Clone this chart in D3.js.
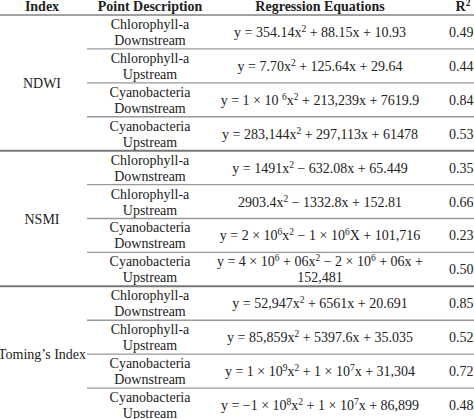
<!DOCTYPE html><html><head><meta charset="utf-8">
<script src="https://cdn.jsdelivr.net/npm/d3@7"></script>
<style>body{margin:0;background:#fff}svg text{font-family:"Liberation Serif","Times New Roman",serif;fill:#222}</style>
</head><body><svg id="c" width="474" height="419"></svg><script>
const headers=["Index","Point Description","Regression Equations","R²"];
const indices=["NDWI","NSMI","Toming’s Index"];
const points=["Chlorophyll-a|Downstream","Chlorophyll-a|Upstream","Cyanobacteria|Downstream","Cyanobacteria|Upstream"];
const equations=[
"y = 354.14x^2 + 88.15x + 10.93","y = 7.70x^2 + 125.64x + 29.64","y = 1 × 10 ^6x^2 + 213,239x + 7619.9","y = 283,144x^2 + 297,113x + 61478",
"y = 1491x^2 − 632.08x + 65.449","2903.4x^2 − 1332.8x + 152.81","y = 2 × 10^6x^2 − 1 × 10^6X + 101,716","y = 4 × 10^6 + 06x^2 − 2 × 10^6 + 06x +|152,481",
"y = 52,947x^2 + 6561x + 20.691","y = 85,859x^2 + 5397.6x + 35.035","y = 1 × 10^9x^2 + 1 × 10^7x + 31,304","y = −1 × 10^8x^2 + 1 × 10^7x + 86,899"];
const r2=["0.498","0.442","0.849","0.532","0.356","0.662","0.239","0.507","0.859","0.526","0.721","0.489"];

const svg=d3.select("#c");
const y=d3.scaleLinear().domain([0,12]).range([15,422]);
const x=d3.scaleOrdinal().domain(headers).range([42,150,320,460]);
const fs=14;
function richText(sel,str){
  const parts=str.split(/(\^[0-9]+)/);let up=false;
  parts.forEach(p=>{if(!p)return;
    if(p.startsWith("^")){sel.append("tspan").attr("dy",up?0:-5).attr("font-size",9.5).text(p.slice(1));up=true;}
    else{sel.append("tspan").attr("dy",up?5:0).text(p);up=false;}
  });
}
headers.forEach(h=>{const t=svg.append("text").attr("x",x(h)).attr("y",11).attr("text-anchor","middle").attr("font-weight","bold").attr("font-size",fs);
  if(h==="R²"){t.attr("x",463);richText(t,"R^2");} else t.text(h);});
svg.append("line").attr("x1",0).attr("x2",474).attr("y1",y(0)).attr("y2",y(0)).attr("stroke","#444").attr("stroke-width",1.2);
equations.forEach((eq,i)=>{
  const top=y(i),bot=y(i+1),mid=(top+bot)/2;
  const pl=points[i%4].split("|");
  pl.forEach((l,k)=>svg.append("text").attr("x",x(headers[1])).attr("y",mid-3+k*16).attr("text-anchor","middle").attr("font-size",fs).text(l));
  const el=eq.split("|");
  el.forEach((l,k)=>{const t=svg.append("text").attr("x",x(headers[2])).attr("y",mid+5+(k-(el.length-1)/2)*16).attr("text-anchor","middle").attr("font-size",fs);richText(t,l);});
  svg.append("text").attr("x",449).attr("y",mid+5).attr("font-size",fs).text(r2[i]);
  const grp=(i%4)==3;
  svg.append("line").attr("x1",grp?0:87).attr("x2",474).attr("y1",bot).attr("y2",bot).attr("stroke",grp?"#777":"#999").attr("stroke-width",grp?2:1.3);
});
indices.forEach((n,g)=>svg.append("text").attr("x",x(headers[0])).attr("y",(y(g*4)+y(g*4+4))/2+5).attr("text-anchor","middle").attr("font-size",fs).text(n));
</script></body></html>
